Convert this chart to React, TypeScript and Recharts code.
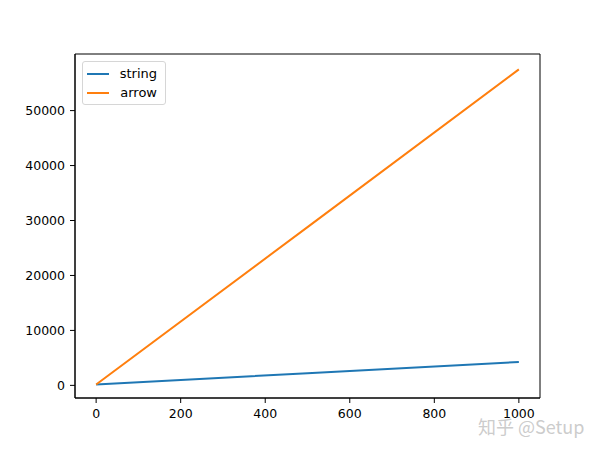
import { LineChart, Line, XAxis, YAxis, ReferenceArea } from "recharts";

const sizes = [0, 500, 1000];
const stringTimes = [150, 2200, 4250];
const arrowTimes = [150, 28800, 57500];
const xTicks = [0, 200, 400, 600, 800, 1000];
const yTicks = [0, 10000, 20000, 30000, 40000, 50000];

const data = sizes.map((n, i) => ({ n, string: stringTimes[i], arrow: arrowTimes[i] }));

const X_DOMAIN: [number, number] = [-50, 1050];
const Y_DOMAIN: [number, number] = [-2300, 60300];
const FONT = "'DejaVu Sans', sans-serif";

const SERIES = [
  { key: "string", color: "#1f77b4" },
  { key: "arrow", color: "#ff7f0e" },
];

function LegendBox() {
  return (
    <div
      style={{
        position: "absolute",
        left: 82,
        top: 61,
        border: "1px solid #d6d6d6",
        borderRadius: 3,
        background: "rgba(255,255,255,0.8)",
        padding: "2px 8px 2px 4px",
        fontFamily: FONT,
        fontSize: 13,
        color: "#000",
        width: 70,
      }}
    >
      {SERIES.map((s) => (
        <div key={s.key} style={{ display: "flex", alignItems: "center", height: 19 }}>
          <span style={{ display: "inline-block", width: 27, height: 2, background: s.color, marginRight: 11 }} />
          <span>{s.key}</span>
        </div>
      ))}
    </div>
  );
}

export default function App() {
  return (
    <div style={{ position: "absolute", left: 0, top: 0, width: 600, height: 450, background: "#fff" }}>
      <LineChart width={600} height={450} data={data} margin={{ top: 54, right: 60, bottom: 0, left: 0 }}>
        <XAxis
          dataKey="n"
          type="number"
          domain={X_DOMAIN}
          ticks={xTicks}
          height={52}
          tickSize={5}
          tickMargin={6}
          axisLine={{ stroke: "#000" }}
          tickLine={{ stroke: "#000" }}
          tick={{ fill: "#000", fontSize: 12.5, fontFamily: FONT }}
          allowDataOverflow
        />
        <YAxis
          type="number"
          domain={Y_DOMAIN}
          ticks={yTicks}
          width={75}
          tickSize={5}
          tickMargin={5}
          axisLine={{ stroke: "#000" }}
          tickLine={{ stroke: "#000" }}
          tick={{ fill: "#000", fontSize: 12.5, fontFamily: FONT }}
          allowDataOverflow
        />
        <ReferenceArea
          x1={X_DOMAIN[0]}
          x2={X_DOMAIN[1]}
          y1={Y_DOMAIN[0]}
          y2={Y_DOMAIN[1]}
          fill="none"
          stroke="#000"
          strokeWidth={1}
          ifOverflow="visible"
        />
        {SERIES.map((s) => (
          <Line
            key={s.key}
            dataKey={s.key}
            stroke={s.color}
            strokeWidth={2}
            dot={false}
            isAnimationActive={false}
            type="linear"
          />
        ))}
      </LineChart>
      <LegendBox />
      <div
        style={{
          position: "absolute",
          left: 478,
          top: 413,
          fontFamily: "'Noto Sans CJK SC', sans-serif",
          fontSize: 18,
          color: "rgba(190,190,190,0.8)",
          whiteSpace: "nowrap",
        }}
      >
        知乎 @Setup
      </div>
    </div>
  );
}
